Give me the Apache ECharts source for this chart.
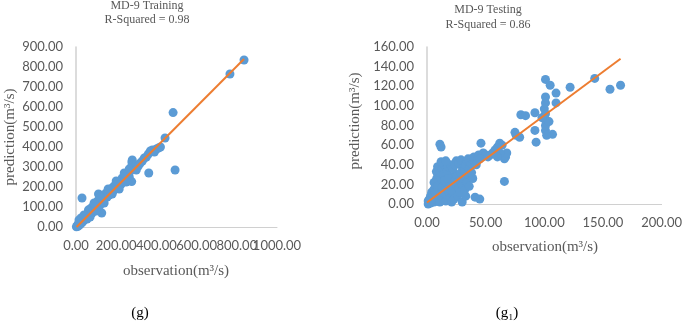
<!DOCTYPE html>
<html>
<head>
<meta charset="utf-8">
<script src="https://cdn.jsdelivr.net/npm/echarts@6/dist/echarts.min.js"></script>
<style>
html,body{margin:0;padding:0;background:#fff;}
#chart{width:685px;height:323px;}
</style>
</head>
<body>
<div id="chart"></div>
<script>
// ---- Data ----
var trainTitle = "MD-9 Training";
var trainR2 = "R-Squared = 0.98";
var testTitle = "MD-9 Testing";
var testR2 = "R-Squared = 0.86";
var xAxisTitle = "observation(m³/s)";
var yAxisTitle = "prediction(m³/s)";

var trainPoints = [
  [2,1],[5,3],[8,10],[10,4],[12,15],[15,8],[18,20],[20,12],[22,25],[25,18],[28,30],[30,22],[30,145],
  [32,40],[35,28],[38,45],[40,35],[42,50],[45,40],[48,55],[50,45],[55,60],[58,50],[60,70],[62,85],
  [65,55],[68,75],[70,90],[72,65],[75,80],[78,95],[80,70],[82,100],[85,90],[88,105],[90,85],[92,110],
  [95,100],[98,120],[100,95],[105,115],[108,130],[110,105],[112,165],[115,125],[118,140],[120,110],
  [125,135],[128,70],[130,150],[135,130],[138,160],[140,140],[145,155],[150,170],[155,150],[160,175],
  [165,160],[170,185],[175,170],[180,195],[185,180],[190,205],[195,190],[200,210],[205,200],[210,220],
  [215,205],[220,230],[225,215],[230,245],[235,225],[240,250],[245,240],[250,260],[255,245],[260,265],
  [265,250],[270,280],[275,300],[278,325],[280,335],[282,310],[277,227],[290,290],[295,300],[300,310],
  [310,305],[320,320],[330,330],[340,345],[350,350],[360,365],[362,270],[370,380],[380,385],[390,375],
  [400,390],[410,395],[420,400],[443,445],[483,572],[493,285],[766,765],[836,835],
  [15,35],[25,45],[40,60],[55,40],[70,50],[90,120],[100,80],[120,150],[140,120],[160,190],[180,165],
  [200,230],[215,190],[240,270],[250,225],[265,290],[300,285]
];
var trainLine = [[3,0],[836,840]];

var testPoints = [
  [1,0],[2,2],[3,1],[2,5],[4,3],[3,8],[5,6],[1,3],[4,12],[5,10],
  [6,2],[7,5],[8,9],[6,15],[7,20],[8,25],[9,28],[10,30],[8,33],[9,38],[6,22],[10,12],[9,18],[7,11],[10,4],
  [11,2],[12,8],[13,14],[14,20],[12,26],[11,32],[13,36],[15,40],[12,43],[14,30],[15,10],[11,61],[12,58],[13,17],[15,24],
  [16,3],[17,9],[18,16],[19,22],[20,28],[17,34],[18,38],[20,40],[16,44],[19,12],[20,6],[18,26],
  [21,2],[22,10],[23,18],[24,24],[25,30],[22,36],[24,40],[25,44],[23,5],[21,14],[25,20],
  [26,8],[27,16],[28,24],[29,32],[30,38],[27,42],[29,45],[30,2],[28,12],[30,20],
  [31,26],[32,34],[33,40],[34,44],[35,46],[32,14],[34,22],[33,8],[35,30],
  [36,36],[37,42],[38,46],[39,26],[40,44],[38,32],[36,18],[40,48],
  [41,7],[45,5],[43,46],[44,50],[46,62],[47,48],[48,52],[50,50],[42,40],[45,46],
  [52,48],[54,50],[56,52],[58,55],[60,58],[62,62],[64,60],[65,50],[66,46],[67,48],[68,52],[66,23],[62,52],[60,48],
  [75,73],[76,70],[79,68],[80,91],[84,90],[92,93],[92,75],[93,63],[101,75],[101,80],[101,86],[101,92],
  [100,97],[101,103],[101,109],[101,127],[105,121],[110,113],[110,103],[107,71],[104,84],[98,88],[102,70],
  [122,119],[143,128],[156,117],[165,121]
];
var testLine = [[0,1.5],[165,148]];

var trainX = {min:0, max:1000, interval:200};
var trainY = {min:0, max:900, interval:100};
var testX = {min:0, max:200, interval:50};
var testY = {min:0, max:160, interval:20};
// left x-axis labels are drawn on two overlaid axes so that none is dropped
var trainXLabelsA = [0, 400, 800];
var trainXLabelsB = [200, 600, 1000];

// ---- Styles ----
var blue = '#5B9BD5';
var orange = '#ED7D31';
var grayText = '#595959';
var axisColor = '#D0D0D0';
var tickFont = 'Lato, "Open Sans", sans-serif';
var serif = '"Liberation Serif", "Times New Roman", serif';

function axis(rng, gridIndex, isY, only, showLine) {
  var a = {
    type: 'value', gridIndex: gridIndex,
    min: rng.min, max: rng.max, interval: rng.interval,
    splitLine: {show: false},
    axisTick: {show: false},
    axisLine: {show: showLine !== false, onZero: false, lineStyle: {color: axisColor, width: isY ? 1.5 : 1}},
    axisLabel: {
      color: grayText, fontFamily: tickFont, fontSize: 13,
      margin: isY ? 13 : 12,
      showMinLabel: true, showMaxLabel: true, hideOverlap: false,
      formatter: function (v) {
        if (only && only.indexOf(v) < 0) return '';
        return v.toFixed(2);
      }
    }
  };
  a.position = isY ? 'left' : 'bottom';
  return a;
}

var chart = echarts.init(document.getElementById('chart'));
chart.setOption({
  animation: false,
  backgroundColor: '#fff',
  grid: [
    {left: 76, top: 47, width: 201, height: 180},
    {left: 427, top: 47, width: 236, height: 157}
  ],
  xAxis: [
    axis(trainX, 0, false, trainXLabelsA, true),
    axis(testX, 1, false),
    axis(trainX, 0, false, trainXLabelsB, false)
  ],
  yAxis: [axis(trainY, 0, true), axis(testY, 1, true)],
  series: [
    {type: 'scatter', xAxisIndex: 0, yAxisIndex: 0, data: trainPoints, symbolSize: 9,
     itemStyle: {color: blue, opacity: 1}},
    {type: 'line', xAxisIndex: 0, yAxisIndex: 0, data: trainLine, symbol: 'none',
     lineStyle: {color: orange, width: 2}},
    {type: 'scatter', xAxisIndex: 1, yAxisIndex: 1, data: testPoints, symbolSize: 9,
     itemStyle: {color: blue, opacity: 1}},
    {type: 'line', xAxisIndex: 1, yAxisIndex: 1, data: testLine, symbol: 'none',
     lineStyle: {color: orange, width: 2}}
  ],
  graphic: [
    {type: 'text', x: 147, y: 6, style: {text: trainTitle, font: '12px ' + serif, fill: grayText, textAlign: 'center', textVerticalAlign: 'middle'}},
    {type: 'text', x: 147, y: 20, style: {text: trainR2, font: '12px ' + serif, fill: grayText, textAlign: 'center', textVerticalAlign: 'middle'}},
    {type: 'text', x: 488, y: 10, style: {text: testTitle, font: '12px ' + serif, fill: grayText, textAlign: 'center', textVerticalAlign: 'middle'}},
    {type: 'text', x: 488, y: 25, style: {text: testR2, font: '12px ' + serif, fill: grayText, textAlign: 'center', textVerticalAlign: 'middle'}},
    {type: 'text', x: 176, y: 271, style: {text: xAxisTitle, font: '15px ' + serif, fill: grayText, textAlign: 'center', textVerticalAlign: 'middle'}},
    {type: 'text', x: 545, y: 247, style: {text: xAxisTitle, font: '15px ' + serif, fill: grayText, textAlign: 'center', textVerticalAlign: 'middle'}},
    {type: 'text', x: 10, y: 137, rotation: Math.PI / 2, style: {text: yAxisTitle, font: '15px ' + serif, fill: grayText, textAlign: 'center', textVerticalAlign: 'middle'}},
    {type: 'text', x: 355, y: 121, rotation: Math.PI / 2, style: {text: yAxisTitle, font: '15px ' + serif, fill: grayText, textAlign: 'center', textVerticalAlign: 'middle'}},
    {type: 'text', x: 140, y: 313, style: {text: '(g)', font: '15px ' + serif, fill: '#000', textAlign: 'center', textVerticalAlign: 'middle'}},
    {type: 'text', x: 507, y: 313, style: {text: '(g₁)', font: '15px ' + serif, fill: '#000', textAlign: 'center', textVerticalAlign: 'middle'}}
  ]
});
</script>
</body>
</html>
